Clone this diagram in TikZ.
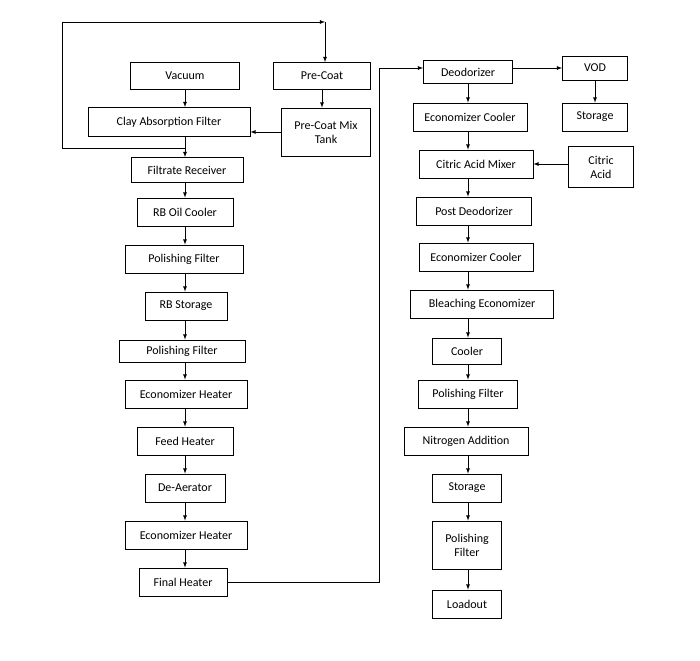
\documentclass[tikz,border=0pt]{standalone}
\usepackage{fontspec}
\setmainfont{Carlito}
\usetikzlibrary{positioning}
\begin{document}
\begin{tikzpicture}[x=1pt,y=-1pt,
	box/.style={draw=black,line width=0.8pt,align=center,inner sep=0pt,font=\fontsize{12}{14}\selectfont,minimum height=28pt},
	arr/.style={-latex,line width=0.8pt}]
		\useasboundingbox (0,0) rectangle (700,660);
		% left column
		\node[box,minimum width=109pt,minimum height=27pt] (vac) at (185,76) {Vacuum};
		\node[box,minimum width=97pt,minimum height=27pt] (pc) at (322,76) {Pre-Coat};
		\node[box,minimum width=162pt,minimum height=29pt] (clay) at (169,122) {Clay Absorption Filter};
		\node[box,minimum width=89pt,minimum height=48pt] (pcmix) at (326,132) {Pre-Coat Mix\\Tank};
		\node[box,minimum width=112pt,minimum height=25pt] (filt) at (187,170) {Filtrate Receiver};
		\node[box,minimum width=96pt] (rbc) at (185,212) {RB Oil Cooler};
		\node[box,minimum width=118pt] (pf1) at (184,259) {Polishing Filter};
		\node[box,minimum width=82pt] (rbs) at (186,306) {RB Storage};
		\node[box,minimum width=126pt,minimum height=22pt] (pf2) at (182,351) {Polishing Filter};
		\node[box,minimum width=122pt] (eh1) at (186,394) {Economizer Heater};
		\node[box,minimum width=96pt] (fh) at (185,441) {Feed Heater};
		\node[box,minimum width=80pt] (dea) at (185,488) {De-Aerator};
		\node[box,minimum width=122pt] (eh2) at (186,535) {Economizer Heater};
		\node[box,minimum width=88pt] (fin) at (183,582) {Final Heater};
		% right column
		\node[box,minimum width=89pt,minimum height=23pt] (deo) at (468,72) {Deodorizer};
		\node[box,minimum width=65pt,minimum height=24pt] (vod) at (595,68) {VOD};
		\node[box,minimum width=65pt] (sto1) at (595,117) {Storage};
		\node[box,minimum width=114pt] (ec1) at (470,117) {Economizer Cooler};
		\node[box,minimum width=114pt] (cam) at (476,164) {Citric Acid Mixer};
		\node[box,minimum width=65pt,minimum height=41pt] (ca) at (601,167) {Citric\\Acid};
		\node[box,minimum width=115pt] (pd) at (474,211) {Post Deodorizer};
		\node[box,minimum width=114pt] (ec2) at (476,257) {Economizer Cooler};
		\node[box,minimum width=143pt] (be) at (482,304) {Bleaching Economizer};
		\node[box,minimum width=69pt,minimum height=26pt] (cool) at (467,351) {Cooler};
		\node[box,minimum width=99pt] (pf3) at (468,394) {Polishing Filter};
		\node[box,minimum width=124pt] (na) at (466,441) {Nitrogen Addition};
		\node[box,minimum width=69pt] (sto2) at (467,488) {Storage};
		\node[box,minimum width=69pt,minimum height=48pt] (pf4) at (467,545) {Polishing\\Filter};
		\node[box,minimum width=69pt] (load) at (467,604) {Loadout};
		
		\coordinate (lx) at (185,0);
		\coordinate (rx) at (468,0);
		\foreach \a/\b in {vac/clay,clay/filt,filt/rbc,rbc/pf1,pf1/rbs,rbs/pf2,pf2/eh1,eh1/fh,fh/dea,dea/eh2,eh2/fin}
			\draw[arr] (lx |- \a.south) -- (lx |- \b.north);
		\foreach \a/\b in {deo/ec1,ec1/cam,cam/pd,pd/ec2,ec2/be,be/cool,cool/pf3,pf3/na,na/sto2,sto2/pf4,pf4/load}
			\draw[arr] (rx |- \a.south) -- (rx |- \b.north);
		\draw[arr] (pc) -- (pc |- pcmix.north);
		\draw[arr] (pcmix.west) -- (clay.east |- pcmix.west);
		\draw[arr] (vod) -- (sto1);
		\draw[arr] (ca.west |- cam) -- (cam.east);
		\draw[arr] (deo.east |- vod) -- (vod.west);
		% recycle loop
		\coordinate (tap) at (185,148);
		\coordinate (top) at (325,22);
		\draw[arr] (tap) -- ++(-123,0) |- (top);
		\draw[arr] (top) -- (top |- pc.north);
		\draw[arr] (fin.east) -| (379,68) -- (deo.west |- 0,68);
	\end{tikzpicture}
\end{document}
